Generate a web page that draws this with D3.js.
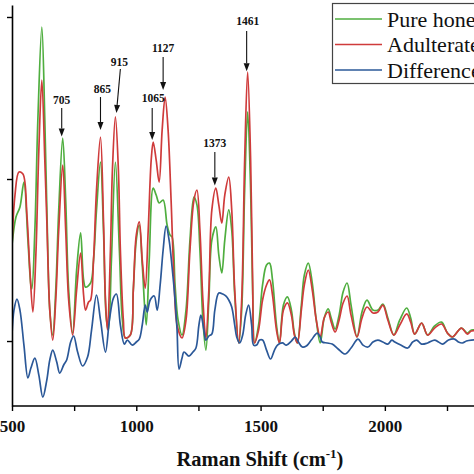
<!DOCTYPE html>
<html>
<head>
<meta charset="utf-8">
<script src="https://cdn.jsdelivr.net/npm/d3@7"></script>
<style>
  html, body { margin: 0; padding: 0; background: #fff; }
  svg { display: block; }
</style>
</head>
<body>
<svg id="chart" width="474" height="474"></svg>
<script>
// ---------------- data ----------------
const seriesNames = ["Pure honey", "Adulterated honey", "Difference"];
const seriesColors = ["#4fae3f", "#cf3b3b", "#2b5898"];

const pureWn = [500,516,532,548,564,576,580,592,604,620,632,644,652,664,676,688,704,716,728,744,760,776,788,796,816,828,840,856,868,880,888,900,916,932,944,956,976,988,1000,1012,1024,1040,1052,1068,1080,1092,1108,1124,1136,1144,1156,1168,1184,1200,1216,1232,1244,1256,1268,1280,1292,1304,1320,1332,1344,1356,1372,1384,1396,1412,1424,1436,1448,1460,1468,1476,1492,1508,1524,1536,1548,1564,1576,1592,1608,1624,1636,1648,1664,1676,1692,1708,1724,1740,1756,1772,1784,1800,1816,1832,1848,1864,1888,1908,1928,1952,1972,1992,2012,2036,2060,2088,2104,2120,2148,2172,2200,2228,2252,2272,2308,2332,2348,2400];
const pureVal = [593,765,827,981,623,346,321,685,1364,1938,1364,562,191,37,315,809,1253,870,315,49,438,667,377,333,358,500,809,1105,685,130,68,500,1105,562,130,19,37,315,623,716,469,99,500,944,901,852,870,716,654,642,346,130,37,191,623,889,840,562,130,-56,253,623,704,531,420,623,809,685,284,-12,191,932,1414,932,315,-12,99,346,469,481,377,99,-12,222,272,191,49,-12,222,407,481,358,130,-12,142,198,142,74,160,302,358,222,25,179,253,191,191,228,142,37,130,204,142,43,111,37,93,117,49,25,80,49,68,56];

const adultWn = [500,512,528,544,560,572,584,596,608,620,632,640,652,664,676,688,704,716,728,744,760,776,788,796,808,816,828,840,856,868,876,884,896,904,916,928,936,948,956,976,988,1000,1012,1024,1036,1048,1060,1068,1080,1092,1104,1116,1128,1140,1152,1164,1184,1200,1216,1232,1244,1256,1268,1280,1292,1304,1320,1332,1344,1356,1372,1384,1396,1412,1424,1436,1448,1460,1468,1476,1492,1508,1524,1536,1548,1564,1576,1592,1608,1624,1636,1648,1664,1676,1692,1708,1724,1740,1756,1772,1784,1800,1816,1832,1848,1864,1888,1908,1928,1952,1972,1992,2012,2036,2060,2088,2104,2120,2148,2172,2200,2228,2252,2272,2308,2332,2348,2400];
const adultVal = [593,901,1043,1031,778,438,179,531,1179,1611,1117,747,191,6,253,685,1086,685,253,37,315,543,284,191,241,253,500,932,1259,747,253,68,562,1056,1383,1056,562,130,19,37,315,654,735,500,327,685,1117,1228,1117,981,1302,1506,1302,870,377,99,19,130,562,870,932,685,253,19,315,809,944,840,728,901,1012,809,315,-12,253,1117,1660,1117,377,-12,68,253,346,377,284,68,-12,191,235,160,37,-12,191,346,438,315,130,25,142,179,117,56,130,235,278,160,25,142,210,173,179,222,130,37,99,167,117,43,111,37,80,105,49,25,80,43,62,56];

const diffWn = [500,508,520,532,548,564,576,592,608,624,640,652,664,680,692,708,720,736,748,764,784,804,820,840,856,876,892,908,920,936,952,964,984,1000,1012,1024,1036,1044,1056,1072,1084,1096,1108,1120,1132,1144,1156,1164,1172,1184,1192,1212,1228,1240,1252,1260,1272,1280,1292,1304,1316,1332,1348,1360,1372,1384,1396,1404,1416,1428,1440,1452,1464,1472,1484,1496,1508,1524,1540,1556,1568,1588,1604,1624,1640,1652,1668,1684,1704,1728,1740,1748,1768,1788,1812,1840,1864,1892,1912,1932,1952,1972,1992,2012,2028,2040,2064,2092,2112,2128,2148,2172,2200,2216,2232,2256,2280,2296,2312,2328,2348,2400];
const diffVal = [37,191,259,191,-25,-228,-167,-105,-210,-346,-241,-117,-56,-130,-198,-148,-117,-6,31,-68,-154,-99,68,284,130,-68,130,265,290,99,-19,6,-25,-6,12,99,222,179,253,278,191,346,562,710,623,457,253,68,-173,-105,-68,-93,-68,-43,99,160,68,6,31,43,191,296,290,278,253,210,99,25,-12,37,160,222,99,-25,-25,6,6,-56,-111,-56,-25,-12,-25,0,25,-6,-37,-31,6,49,25,-6,-12,-19,-49,-80,-43,12,-25,-37,-6,6,-6,-19,6,-6,-25,-43,-6,6,-19,-12,6,-6,-19,6,12,-6,-12,0,6,6];

const xTickValues = [500, 750, 1000, 1250, 1500, 1750, 2000, 2250];
const xTickLabels = ["500", "", "1000", "", "1500", "", "2000", ""];
const yTickValues = [0, 1000, 2000];

// peak annotations (data units: wavenumber / intensity)
const peakLabels = ["705", "865", "915", "1065", "1127", "1373", "1461"];
const labelWn   = [700, 864, 932, 1068, 1108, 1316, 1448];
const labelVal  = [1463, 1531, 1697, 1475, 1784, 1197, 1950];
const arrowFromWn  = [700, 856, 936, 1064, 1108, 1316, 1444];
const arrowFromVal = [1438, 1506, 1679, 1438, 1753, 1166, 1913];
const arrowToWn    = [700, 856, 920, 1064, 1108, 1316, 1444];
const arrowToVal   = [1262, 1302, 1407, 1240, 1549, 960, 1665];

const xTitle = "Raman Shift (cm";
// ---------------- drawing ----------------
const svg = d3.select("#chart");
const serif = "'Liberation Serif', 'Times New Roman', serif";

const x = d3.scaleLinear().domain([500, 2250]).range([12, 447]);
const y = d3.scaleLinear().domain([-401, 2074]).range([406, 5]);

svg.append("defs").append("clipPath").attr("id", "plotclip")
  .append("rect").attr("x", 12).attr("y", 0).attr("width", 500).attr("height", 406);

const series = [
  pureWn.map((w, i) => [w, pureVal[i]]),
  adultWn.map((w, i) => [w, adultVal[i]]),
  diffWn.map((w, i) => [w, diffVal[i]])
];

const line = d3.line()
  .x(d => x(d[0]))
  .y(d => y(d[1]))
  .curve(d3.curveCatmullRom.alpha(0.5));

const g = svg.append("g").attr("clip-path", "url(#plotclip)");
series.forEach((s, i) => {
  g.append("path")
    .datum(s)
    .attr("fill", "none")
    .attr("stroke", seriesColors[i])
    .attr("stroke-width", 1.7)
    .attr("stroke-linejoin", "round")
    .attr("d", line);
});

// x axis
const xAxis = d3.axisBottom(x)
  .tickValues(xTickValues)
  .tickSize(5)
  .tickSizeOuter(0)
  .tickFormat((d, i) => xTickLabels[i]);
const gx = svg.append("g").attr("transform", "translate(0,406)").call(xAxis);
gx.select(".domain").attr("stroke", "#000").attr("stroke-width", 1.6)
  .attr("d", "M12,0H480");
gx.selectAll(".tick line").attr("stroke", "#000").attr("stroke-width", 1.4);
gx.selectAll(".tick text")
  .attr("font-family", serif).attr("font-weight", "bold")
  .attr("font-size", 17).attr("fill", "#111").attr("dy", "1.05em");

// y axis (no labels visible)
const yAxis = d3.axisLeft(y).tickValues(yTickValues).tickSize(5).tickSizeOuter(0).tickFormat("");
const gy = svg.append("g").attr("transform", "translate(12,0)").call(yAxis);
gy.select(".domain").attr("stroke", "#000").attr("stroke-width", 1.6);
gy.selectAll(".tick line").attr("stroke", "#000").attr("stroke-width", 1.4);

// x title
const title = svg.append("text")
  .attr("x", 260).attr("y", 466)
  .attr("text-anchor", "middle")
  .attr("font-family", serif).attr("font-weight", "bold")
  .attr("font-size", 20.5).attr("fill", "#111");
title.append("tspan").text(xTitle);
title.append("tspan").attr("font-size", 13).attr("dy", -8).text("-1");
title.append("tspan").attr("dy", 8).text(")");

// annotations
const ann = svg.append("g");
peakLabels.forEach((lab, i) => {
  ann.append("text")
    .attr("x", x(labelWn[i])).attr("y", y(labelVal[i]))
    .attr("text-anchor", "middle")
    .attr("font-family", serif).attr("font-weight", "bold")
    .attr("font-size", 11.5).attr("fill", "#111")
    .text(lab);
  const x1 = x(arrowFromWn[i]), y1 = y(arrowFromVal[i]);
  const x2 = x(arrowToWn[i]), y2 = y(arrowToVal[i]);
  const ang = Math.atan2(y2 - y1, x2 - x1);
  const hl = 8, hw = 3;
  const bx = x2 - hl * Math.cos(ang), by = y2 - hl * Math.sin(ang);
  ann.append("line")
    .attr("x1", x1).attr("y1", y1).attr("x2", bx).attr("y2", by)
    .attr("stroke", "#111").attr("stroke-width", 1.1);
  const px = -Math.sin(ang) * hw, py = Math.cos(ang) * hw;
  ann.append("path")
    .attr("d", `M${x2},${y2}L${bx + px},${by + py}L${bx - px},${by - py}Z`)
    .attr("fill", "#111");
});

// legend
const lg = svg.append("g");
lg.append("rect")
  .attr("x", 332.5).attr("y", 3.5).attr("width", 160).attr("height", 80)
  .attr("fill", "#fff").attr("stroke", "#444").attr("stroke-width", 1.2);
seriesNames.forEach((n, i) => {
  const ly = 19 + i * 25.5;
  lg.append("line")
    .attr("x1", 335).attr("x2", 382).attr("y1", ly).attr("y2", ly)
    .attr("stroke", seriesColors[i]).attr("stroke-width", 1.7);
  lg.append("text")
    .attr("x", 387).attr("y", ly + 7.5)
    .attr("font-family", serif).attr("font-size", 22).attr("fill", "#111")
    .text(n);
});
</script>
</body>
</html>
